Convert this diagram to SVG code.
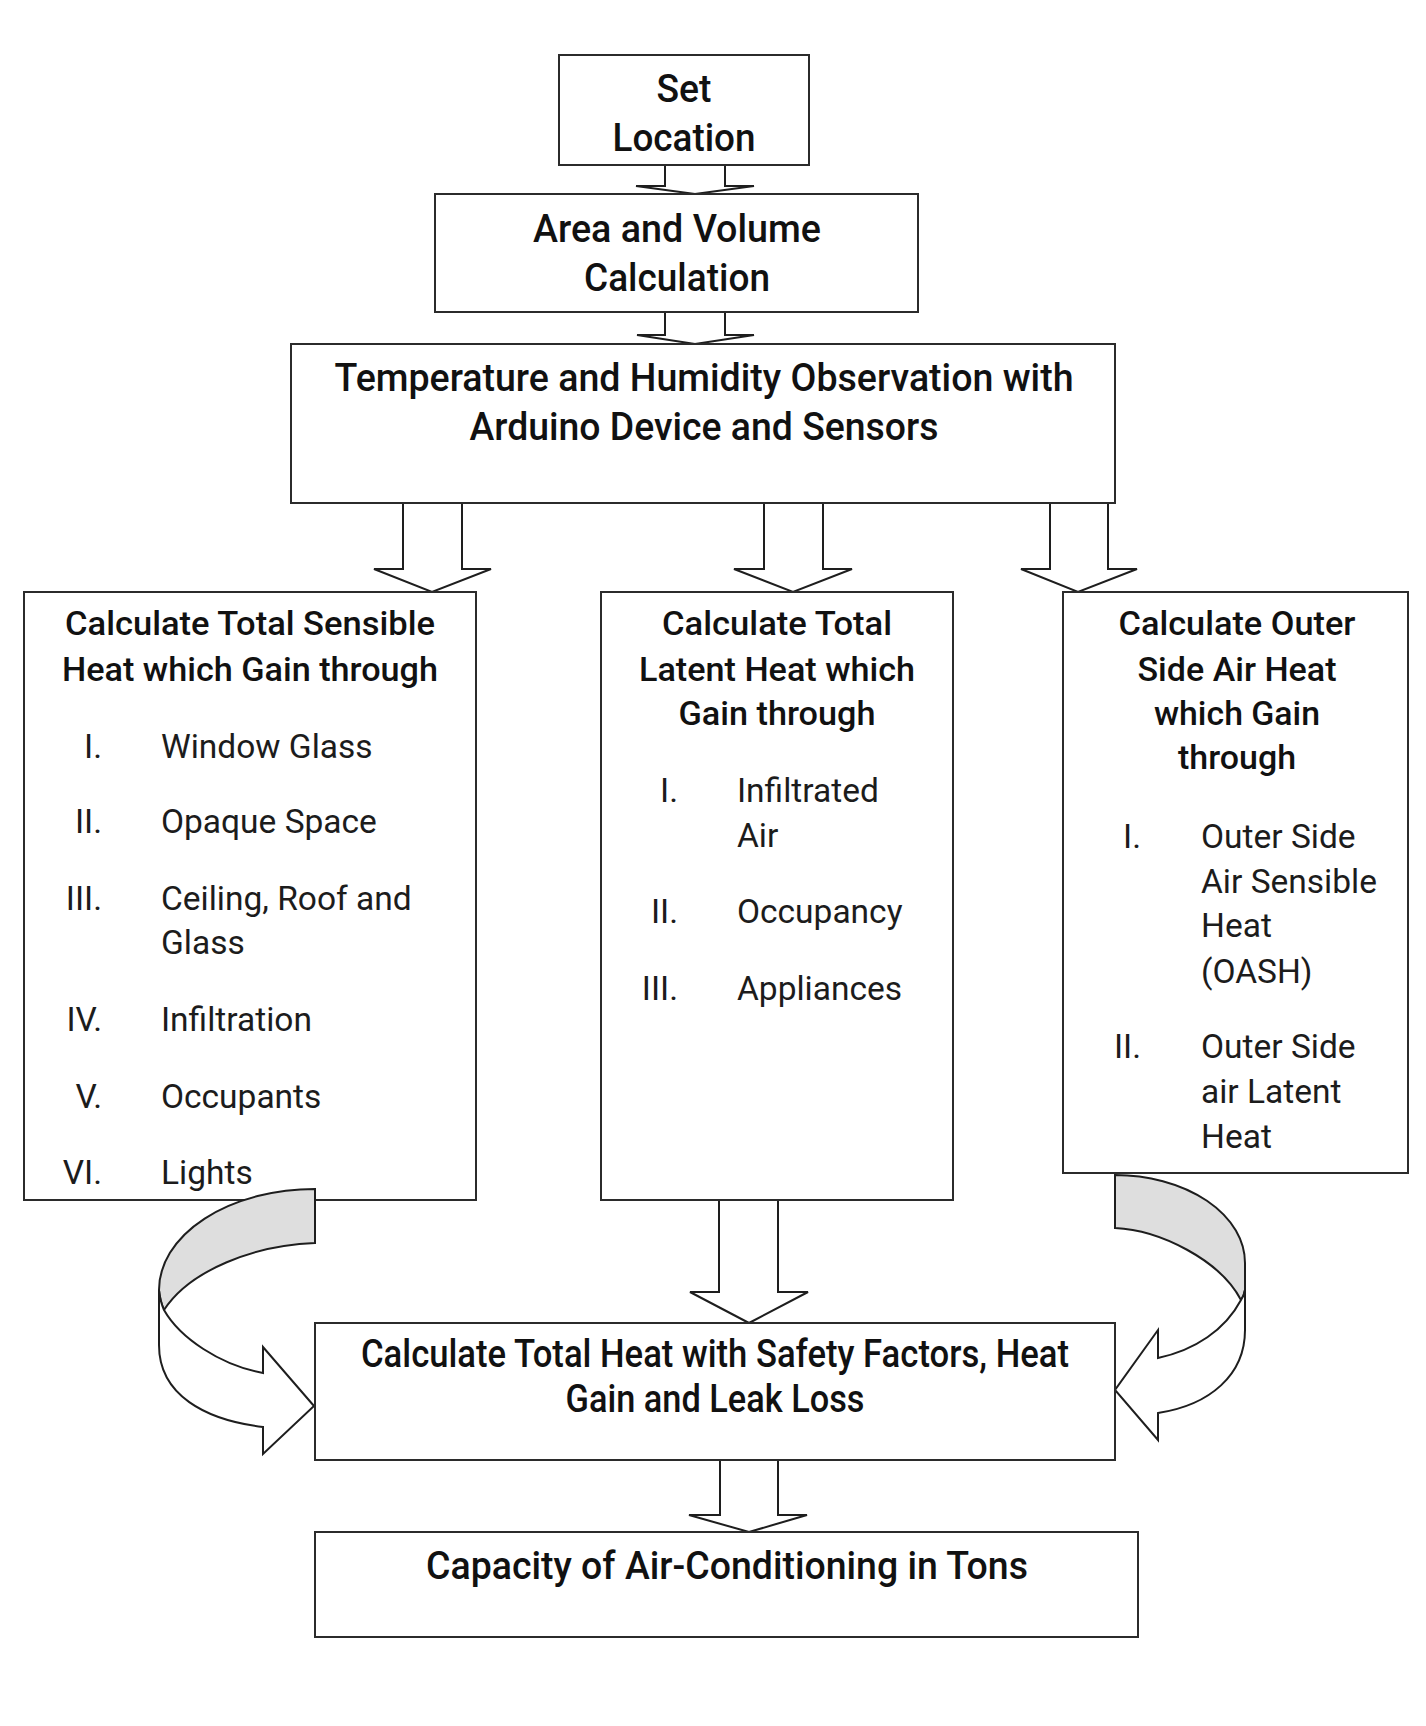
<svg xmlns="http://www.w3.org/2000/svg" width="1426" height="1726" viewBox="0 0 1426 1726">
<style>
  .box { fill: #ffffff; stroke: #2b2b2b; stroke-width: 2; }
  .arr { fill: #ffffff; stroke: #1e1e1e; stroke-width: 2; stroke-linejoin: miter; }
  .band { fill: #dedede; stroke: #1e1e1e; stroke-width: 2; }
  .front { fill: #ffffff; stroke: #1e1e1e; stroke-width: 2; }
  text { font-family: Roboto, "Liberation Sans", sans-serif; fill: #111111; }
  .top { font-size: 38px; font-weight: 500; text-anchor: middle; }
  .ttl { font-size: 33px; font-weight: 500; text-anchor: middle; }
  .num { font-size: 33.5px; font-weight: 400; text-anchor: end; fill: #1c1c1c; }
  .itm { font-size: 33.5px; font-weight: 400; fill: #1c1c1c; }
</style>
<rect x="0" y="0" width="1426" height="1726" fill="#ffffff"/>

<g id="connectors">
  <polygon class="arr" points="665,165 665,186 636,186 695,194 754,186 725,186 725,165"/>
  <polygon class="arr" points="665,312 665,335 637,335 695,344 754,335 725,335 725,312"/>
  <polygon class="arr" points="403,503 403,569 374,569 432,592 491,569 462,569 462,503"/>
  <polygon class="arr" points="764,503 764,569 734,569 793,592 852,569 823,569 823,503"/>
  <polygon class="arr" points="1050,503 1050,569 1021,569 1078,592 1137,569 1108,569 1108,503"/>
  <polygon class="arr" points="719,1200 719,1292 690,1292 749,1323 808,1292 778,1292 778,1200"/>
  <polygon class="arr" points="720,1460 720,1515 689,1515 749,1532 807,1515 778,1515 778,1460"/>
</g>

<g id="node-set-location">
  <rect class="box" x="559" y="55" width="250" height="110"/>
  <text class="top" x="684" y="102" font-size="36" textLength="55" lengthAdjust="spacingAndGlyphs">Set</text>
  <text class="top" x="684" y="151" font-size="36" textLength="143" lengthAdjust="spacingAndGlyphs">Location</text>
</g>

<g id="node-area-volume">
  <rect class="box" x="435" y="194" width="483" height="118"/>
  <text class="top" x="677" y="242" font-size="37" textLength="288" lengthAdjust="spacingAndGlyphs">Area and Volume</text>
  <text class="top" x="677" y="291" font-size="37" textLength="186" lengthAdjust="spacingAndGlyphs">Calculation</text>
</g>

<g id="node-temp-humidity">
  <rect class="box" x="291" y="344" width="824" height="159"/>
  <text class="top" x="704" y="391" textLength="739" lengthAdjust="spacingAndGlyphs">Temperature and Humidity Observation with</text>
  <text class="top" x="704" y="440" textLength="469" lengthAdjust="spacingAndGlyphs">Arduino Device and Sensors</text>
</g>

<g id="node-sensible-heat">
  <rect class="box" x="24" y="592" width="452" height="608"/>
  <text class="ttl" x="250" y="635" textLength="370" lengthAdjust="spacingAndGlyphs">Calculate Total Sensible</text>
  <text class="ttl" x="250" y="681" textLength="376" lengthAdjust="spacingAndGlyphs">Heat which Gain through</text>
  <text class="num" x="102" y="758">I.</text>
  <text class="itm" x="161" y="758">Window Glass</text>
  <text class="num" x="102" y="833">II.</text>
  <text class="itm" x="161" y="833">Opaque Space</text>
  <text class="num" x="102" y="910">III.</text>
  <text class="itm" x="161" y="910">Ceiling, Roof and</text>
  <text class="itm" x="161" y="954">Glass</text>
  <text class="num" x="102" y="1031">IV.</text>
  <text class="itm" x="161" y="1031">Infiltration</text>
  <text class="num" x="102" y="1108">V.</text>
  <text class="itm" x="161" y="1108">Occupants</text>
  <text class="num" x="102" y="1184">VI.</text>
  <text class="itm" x="161" y="1184">Lights</text>
</g>

<g id="node-latent-heat">
  <rect class="box" x="601" y="592" width="352" height="608"/>
  <text class="ttl" x="777" y="635" textLength="230" lengthAdjust="spacingAndGlyphs">Calculate Total</text>
  <text class="ttl" x="777" y="681" textLength="276" lengthAdjust="spacingAndGlyphs">Latent Heat which</text>
  <text class="ttl" x="777" y="725" textLength="197" lengthAdjust="spacingAndGlyphs">Gain through</text>
  <text class="num" x="678" y="802">I.</text>
  <text class="itm" x="737" y="802">Infiltrated</text>
  <text class="itm" x="737" y="847">Air</text>
  <text class="num" x="678" y="923">II.</text>
  <text class="itm" x="737" y="923">Occupancy</text>
  <text class="num" x="678" y="1000">III.</text>
  <text class="itm" x="737" y="1000">Appliances</text>
</g>

<g id="node-outer-air-heat">
  <rect class="box" x="1063" y="592" width="345" height="581"/>
  <text class="ttl" x="1237" y="635" textLength="237" lengthAdjust="spacingAndGlyphs">Calculate Outer</text>
  <text class="ttl" x="1237" y="681" textLength="199" lengthAdjust="spacingAndGlyphs">Side Air Heat</text>
  <text class="ttl" x="1237" y="725" textLength="166" lengthAdjust="spacingAndGlyphs">which Gain</text>
  <text class="ttl" x="1237" y="769" textLength="118" lengthAdjust="spacingAndGlyphs">through</text>
  <text class="num" x="1141" y="848">I.</text>
  <text class="itm" x="1201" y="848">Outer Side</text>
  <text class="itm" x="1201" y="893">Air Sensible</text>
  <text class="itm" x="1201" y="937">Heat</text>
  <text class="itm" x="1201" y="983">(OASH)</text>
  <text class="num" x="1141" y="1058">II.</text>
  <text class="itm" x="1201" y="1058">Outer Side</text>
  <text class="itm" x="1201" y="1103">air Latent</text>
  <text class="itm" x="1201" y="1148">Heat</text>
</g>

<g id="curved-connectors">
  <path class="band" d="M315,1189 A156,101 0 0 0 159,1290 Q160,1301 164,1310 C190,1270 255,1245 315,1243 Z"/>
  <path class="front" d="M164,1310 C180,1338 220,1365 263,1373 L263,1347 L314,1406 L263,1454 L263,1427 C205,1420 159,1395 159,1345 L159,1290 Q160,1301 164,1310 Z"/>
  <path class="band" d="M1115,1175 A130,88 0 0 1 1245,1263 L1245,1290 Q1244,1296 1241,1300 C1220,1260 1160,1230 1115,1228 Z"/>
  <path class="front" d="M1241,1300 C1225,1330 1195,1350 1158,1358 L1158,1330 L1115,1390 L1158,1440 L1158,1413 C1210,1405 1245,1375 1245,1330 L1245,1290 Q1244,1296 1241,1300 Z"/>
</g>

<g id="node-total-heat">
  <rect class="box" x="315" y="1323" width="800" height="137"/>
  <text class="top" x="715" y="1367" font-size="35" textLength="708" lengthAdjust="spacingAndGlyphs">Calculate Total Heat with Safety Factors, Heat</text>
  <text class="top" x="715" y="1412" font-size="35" textLength="299" lengthAdjust="spacingAndGlyphs">Gain and Leak Loss</text>
</g>

<g id="node-capacity">
  <rect class="box" x="315" y="1532" width="823" height="105"/>
  <text class="top" x="727" y="1579" font-size="37" textLength="602" lengthAdjust="spacingAndGlyphs">Capacity of Air-Conditioning in Tons</text>
</g>
</svg>
